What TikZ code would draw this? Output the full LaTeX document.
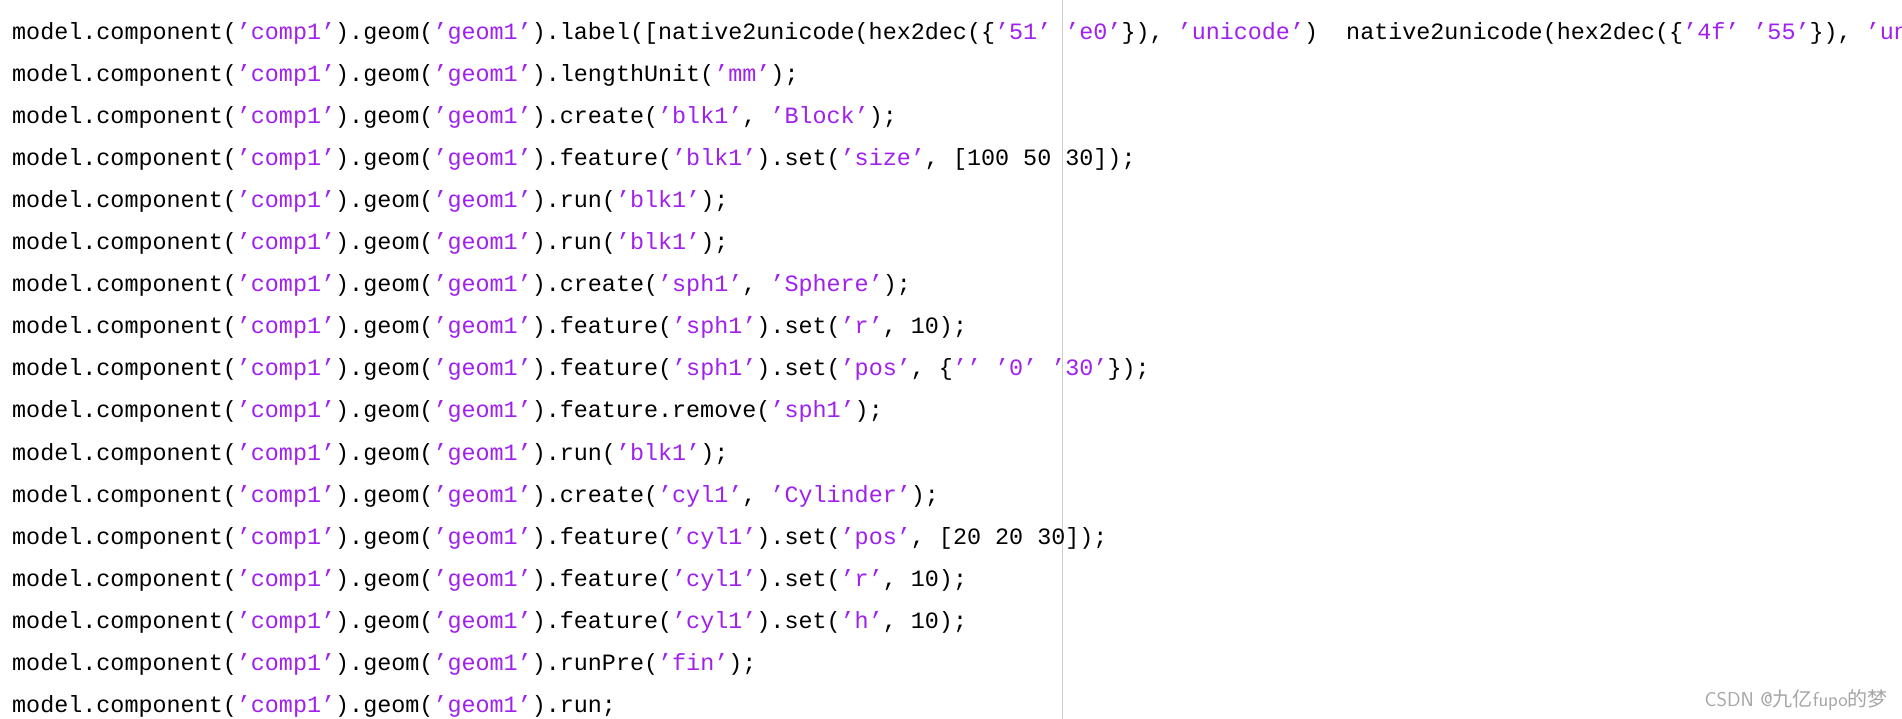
\documentclass[tikz,border=0pt]{standalone}
\usepackage{fontspec}
\setmonofont{Liberation Mono}
\newfontfamily\cjk{Noto Sans CJK SC}
\definecolor{str}{HTML}{A020F0}
\newcommand{\sq}[1]{\textcolor{str}{’#1’}}
\begin{document}
\begin{tikzpicture}[x=1pt,y=1pt,
  code/.style={anchor=west,inner sep=0pt,font=\ttfamily\fontsize{23.4}{27}\selectfont}]
\useasboundingbox (0,0) rectangle (1902,719);
\clip (0,0) rectangle (1902,719);
\fill[white] (0,0) rectangle (1902,719);
\draw[gray!40,line width=1pt] (1062,0) -- (1062,719);
\def\pre{model.component(\sq{comp1}).geom(\sq{geom1}).}
\foreach \t [count=\i] in {
 {label([native2unicode(hex2dec(\{\sq{51} \sq{e0}\}), \sq{unicode})\ \ native2unicode(hex2dec(\{\sq{4f} \sq{55}\}), \sq{unicode})]);},
 {lengthUnit(\sq{mm});},
 {create(\sq{blk1}, \sq{Block});},
 {feature(\sq{blk1}).set(\sq{size}, [100 50 30]);},
 {run(\sq{blk1});},
 {run(\sq{blk1});},
 {create(\sq{sph1}, \sq{Sphere});},
 {feature(\sq{sph1}).set(\sq{r}, 10);},
 {feature(\sq{sph1}).set(\sq{pos}, \{\sq{} \sq{0} \sq{30}\});},
 {feature.remove(\sq{sph1});},
 {run(\sq{blk1});},
 {create(\sq{cyl1}, \sq{Cylinder});},
 {feature(\sq{cyl1}).set(\sq{pos}, [20 20 30]);},
 {feature(\sq{cyl1}).set(\sq{r}, 10);},
 {feature(\sq{cyl1}).set(\sq{h}, 10);},
 {runPre(\sq{fin});},
 {run;}}
 \node[code] (l\i) at (12,{719-33-42.1*(\i-1)}) {\pre\t};
\node[anchor=east,inner sep=0pt,text=gray!70,font=\fontsize{20}{24}\selectfont\sffamily] (wm) at (1888,19) {CSDN @\cjk 九亿\sffamily fupo\cjk 的梦};
\end{tikzpicture}
\end{document}
